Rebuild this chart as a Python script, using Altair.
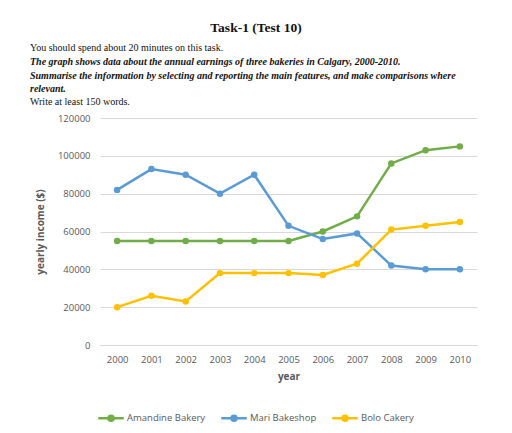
import altair as alt
import pandas as pd

years = ["2000", "2001", "2002", "2003", "2004", "2005", "2006", "2007", "2008", "2009", "2010"]
amandine = [55000, 55000, 55000, 55000, 55000, 55000, 60000, 68000, 96000, 103000, 105000]
mari = [82000, 93000, 90000, 80000, 90000, 63000, 56000, 59000, 42000, 40000, 40000]
bolo = [20000, 26000, 23000, 38000, 38000, 38000, 37000, 43000, 61000, 63000, 65000]
series_names = ["Amandine Bakery", "Mari Bakeshop", "Bolo Cakery"]
series_colors = ["#70AD47", "#5B9BD5", "#FFC000"]
y_ticks = [0, 20000, 40000, 60000, 80000, 100000, 120000]

title_text = "Task-1 (Test 10)"
line1 = "You should spend about 20 minutes on this task."
line2 = "The graph shows data about the annual earnings of three bakeries in Calgary, 2000-2010."
line3 = "Summarise the information by selecting and reporting the main features, and make comparisons where"
line4 = "relevant."
line5 = "Write at least 150 words."

rows = []
for name, vals in zip(series_names, [amandine, mari, bolo]):
    for y, v in zip(years, vals):
        rows.append({"year": y, "income": v, "bakery": name})
df = pd.DataFrame(rows)

color = alt.Color("bakery:N", scale=alt.Scale(domain=series_names, range=series_colors),
                  legend=alt.Legend(title=None, orient="none", direction="horizontal",
                                    legendX=-3, legendY=286,
                                    symbolType="M-1,0L1,0M-0.2,0A0.2,0.2 0 1,0 0.2,0A0.2,0.2 0 1,0 -0.2,0Z",
                                    symbolSize=650, symbolStrokeWidth=2.5,
                                    labelFont="Open Sans", labelFontSize=9.5, labelColor="#595959",
                                    columnPadding=10, labelOffset=2))

base = alt.Chart(df).encode(
    x=alt.X("year:O", scale=alt.Scale(type="point", padding=0.5),
            axis=alt.Axis(title="year", labelAngle=0, ticks=False, domain=True, domainColor="#D9D9D9",
                          labelPadding=9, titlePadding=8, labelFont="Open Sans", labelFontSize=9.5,
                          labelColor="#595959", titleFont="Open Sans", titleFontSize=10,
                          titleFontWeight="bold", titleColor="#595959")),
    y=alt.Y("income:Q", scale=alt.Scale(domain=[0, 120000], nice=False),
            axis=alt.Axis(title="yearly income ($)", values=y_ticks, format="d", ticks=False, domain=False,
                          grid=True, gridColor="#D9D9D9", labelPadding=10, titlePadding=12,
                          labelFont="Open Sans", labelFontSize=9.5, labelColor="#595959",
                          titleFont="Open Sans", titleFontSize=10, titleFontWeight="bold",
                          titleColor="#595959")),
    color=color,
)

lines = base.mark_line(strokeWidth=2.5)
points = base.mark_point(filled=True, size=42, opacity=1)

def txt(s, x, y, size, weight="normal", style="normal", align="left"):
    return alt.Chart(pd.DataFrame({"t": [s]})).mark_text(
        font="Liberation Serif", fontSize=size, fontWeight=weight, fontStyle=style,
        align=align, baseline="middle", color="#111111"
    ).encode(text="t:N", x=alt.value(x), y=alt.value(y))

header = (txt(title_text, 156, -90, 13.5, weight="bold", align="center")
          + txt(line1, -70, -70, 10)
          + txt(line2, -70, -56, 10, weight="bold", style="italic")
          + txt(line3, -70, -42, 10, weight="bold", style="italic")
          + txt(line4, -70, -29, 10, weight="bold", style="italic")
          + txt(line5, -70, -16, 10))

chart = alt.layer(lines, points, header).properties(
    width=377, height=227,
    autosize=alt.AutoSizeParams(type="none"),
    padding={"left": 92, "top": 110, "right": 27, "bottom": 80},
    background="white",
).configure_view(stroke=None)

chart.save("out.html", embed_options={"renderer": "svg", "actions": False})
